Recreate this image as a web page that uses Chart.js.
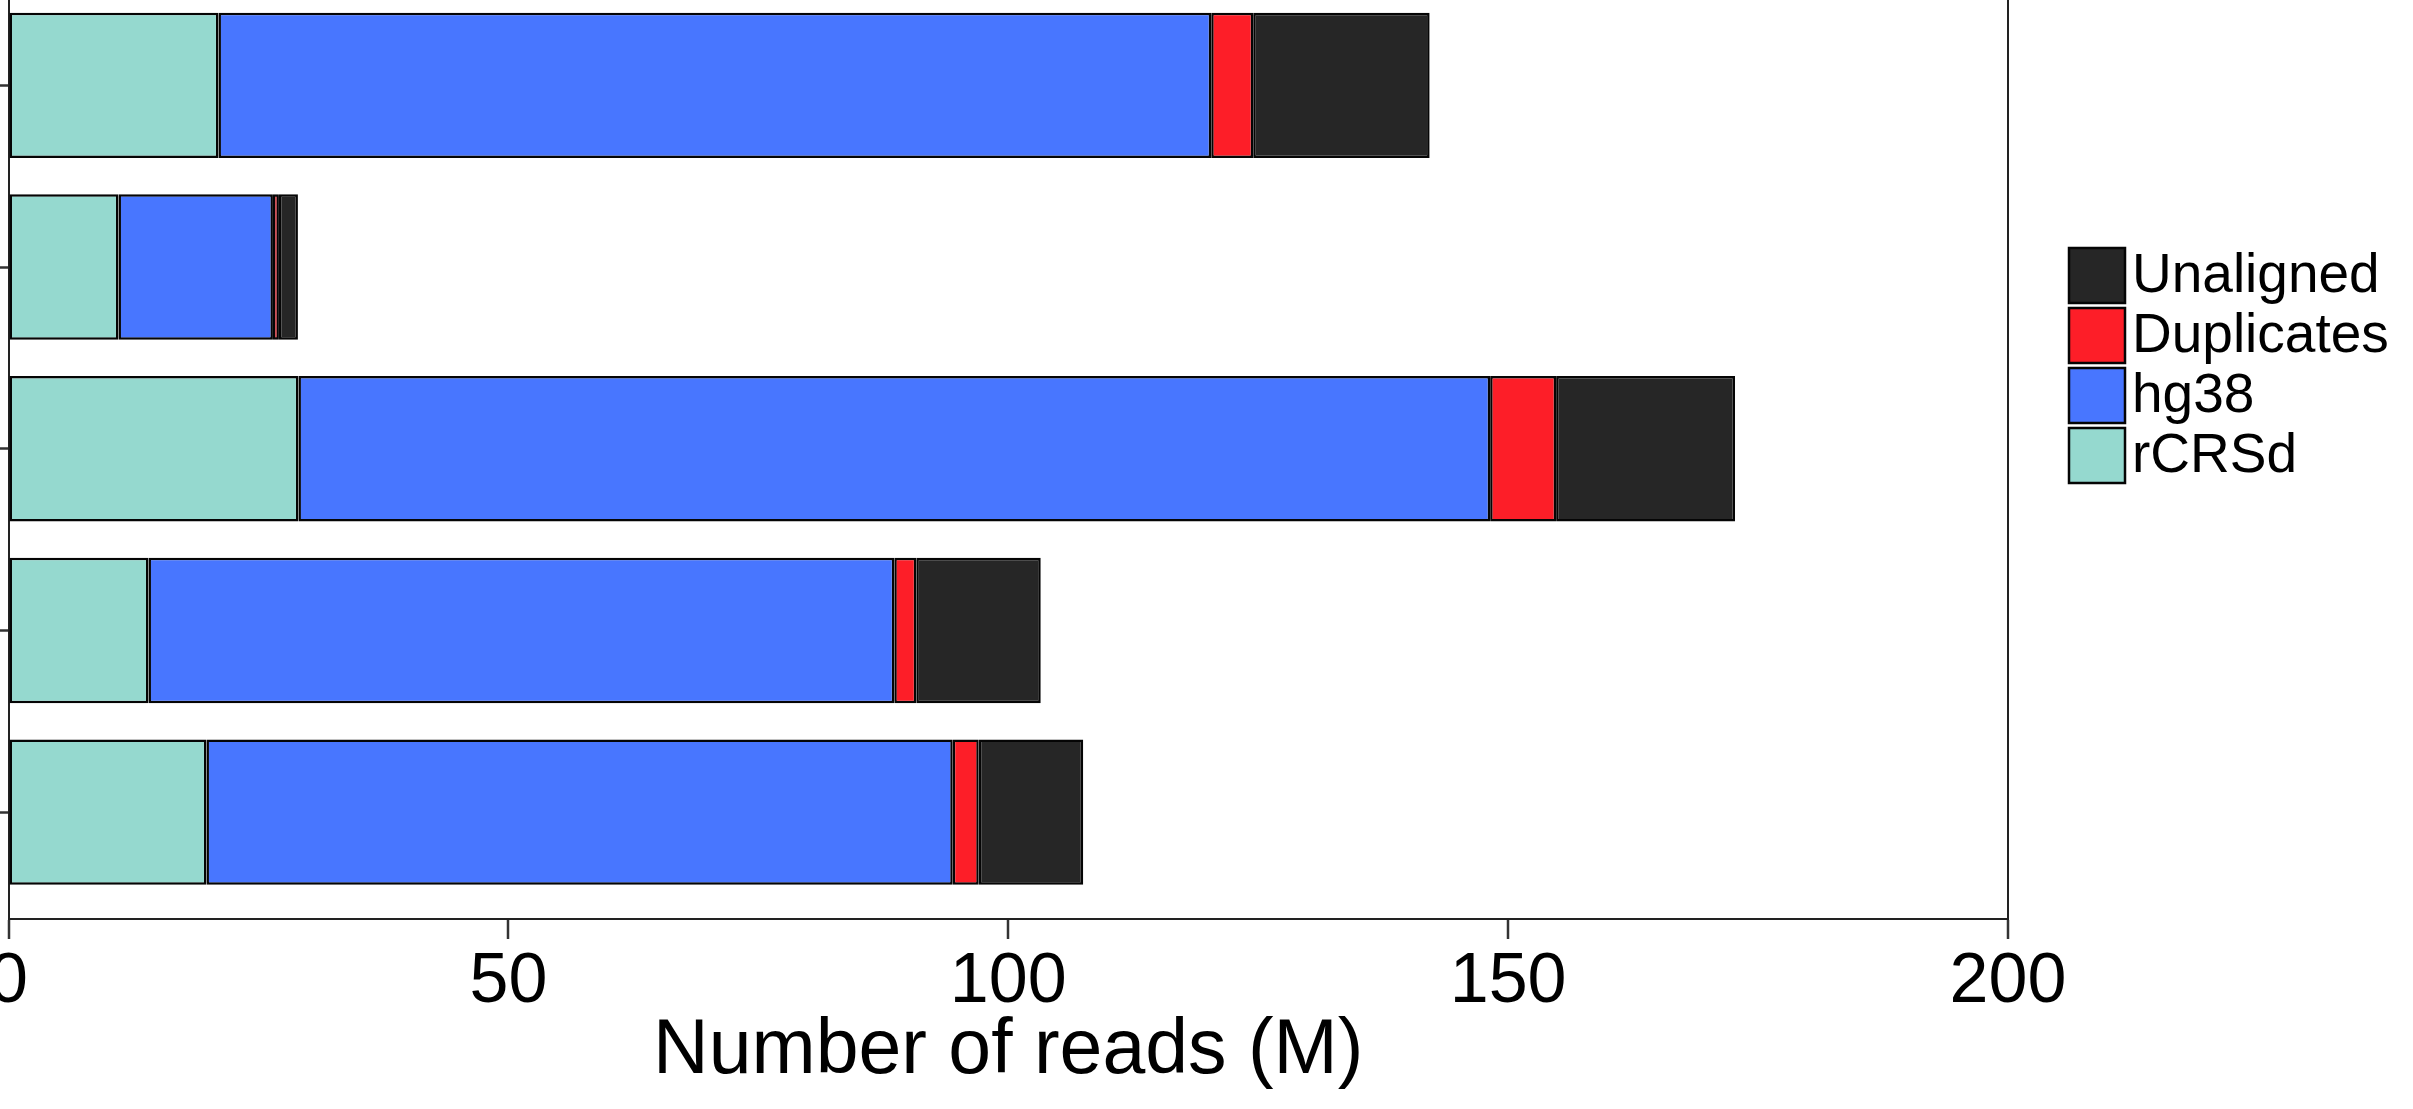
<!DOCTYPE html>
<html>
<head>
<meta charset="utf-8">
<script src="https://cdn.jsdelivr.net/npm/chart.js@4.4.1/dist/chart.umd.min.js"></script>
<style>
    html, body { margin: 0; padding: 0; background: #fff; overflow: hidden; }
    /* the figure is cropped on the left, so the canvas starts a bit off screen */
    #contenedor { position: absolute; left: -100px; top: 0; width: 2513px; height: 1109px; }
</style>
</head>
<body>
<div id="contenedor"><canvas id="graficoLecturas"></canvas></div>
<script>
// samples, top to bottom (their names are cropped off in the figure)
const muestras = ['S1', 'S2', 'S3', 'S4', 'S5'];

// reads per category, millions
const rcrsd = [21.0, 11.0, 29.0, 14.0, 19.8];
const hg38 = [99.3, 15.45, 119.2, 74.6, 74.65];
const duplicados = [4.2, 0.6, 6.6, 2.2, 2.6];
const noAlineados = [17.65, 1.9, 17.9, 12.45, 10.45];

const ticksX = [0, 50, 100, 150, 200];

const series = [
    { label: 'rCRSd', data: rcrsd, color: '#95D9CF' },
    { label: 'hg38', data: hg38, color: '#4876FF' },
    { label: 'Duplicates', data: duplicados, color: '#FD1E28' },
    { label: 'Unaligned', data: noAlineados, color: '#262626' }
];

const fuente = "'Liberation Sans', Arial, sans-serif";

// leyenda a mano: cajas pegadas y texto cerca de la caja
const leyendaPlugin = {
    id: 'leyendaDerecha',
    afterDraw(chart) {
        const ctx = chart.ctx;
        const area = chart.chartArea;
        const x0 = area.right + 60;
        const y0 = 247;
        const w = 58, h = 57, paso = 60;
        const items = chart.data.datasets.slice().reverse();
        ctx.save();
        ctx.font = '55px ' + fuente;
        ctx.textBaseline = 'middle';
        ctx.textAlign = 'left';
        items.forEach((ds, i) => {
            const y = y0 + i * paso;
            ctx.fillStyle = ds.backgroundColor;
            ctx.fillRect(x0, y, w, h);
            ctx.lineWidth = 2.5;
            ctx.strokeStyle = '#050505';
            ctx.strokeRect(x0 + 1, y + 1, w - 2, h - 2);
            ctx.fillStyle = '#000';
            ctx.fillText(ds.label, x0 + w + 6, y + h / 2 + 1);
        });
        ctx.restore();
    }
};

const ctx = document.getElementById('graficoLecturas').getContext('2d');

new Chart(ctx, {
    type: 'bar',
    plugins: [leyendaPlugin],
    data: {
        datasets: series.map(s => ({
            label: s.label,
            data: s.data.map((v, i) => ({ x: v, y: i })),
            backgroundColor: s.color,
            borderColor: '#050505',
            borderWidth: 2.5,
            borderSkipped: false,
            categoryPercentage: 0.8,
            barPercentage: 1.0
        }))
    },
    options: {
        indexAxis: 'y',
        responsive: true,
        maintainAspectRatio: false,
        animation: false,
        layout: { padding: { left: 88.5, right: 405, top: 0, bottom: 0 } },
        scales: {
            x: {
                type: 'linear',
                stacked: true,
                min: 0,
                max: 200,
                offset: false,
                afterBuildTicks: (scale) => { scale.ticks = ticksX.map(v => ({ value: v })); },
                afterFit: (scale) => { scale.height = 190; },
                grid: {
                    offset: false,
                    drawOnChartArea: true,
                    // only the line at 200 is visible: the right frame
                    color: (c) => (c.tick && c.tick.value === 200 ? '#222' : 'rgba(0,0,0,0)'),
                    lineWidth: 2,
                    drawTicks: true,
                    tickLength: 20,
                    tickColor: '#333',
                    tickWidth: 2.5
                },
                border: { display: true, color: '#222', width: 2 },
                ticks: {
                    color: '#000',
                    padding: 2,
                    maxRotation: 0,
                    font: { family: fuente, size: 70 }
                },
                title: {
                    display: true,
                    text: 'Number of reads (M)',
                    color: '#000',
                    padding: { top: 0, bottom: 11 },
                    font: { family: fuente, size: 77 }
                }
            },
            y: {
                type: 'linear',
                stacked: true,
                reverse: true,
                min: -0.4695,
                max: 4.588,
                offset: false,
                bounds: 'data',
                afterBuildTicks: (scale) => { scale.ticks = muestras.map((m, i) => ({ value: i })); },
                afterFit: (scale) => { scale.width = 20; },
                grid: {
                    offset: false,
                    drawOnChartArea: false,
                    drawTicks: true,
                    tickLength: 20,
                    tickColor: '#333',
                    tickWidth: 2.5
                },
                border: { display: true, color: '#222', width: 2 },
                ticks: { display: false }
            }
        },
        plugins: {
            legend: { display: false },
            tooltip: { enabled: false }
        }
    }
});
</script>
</body>
</html>
